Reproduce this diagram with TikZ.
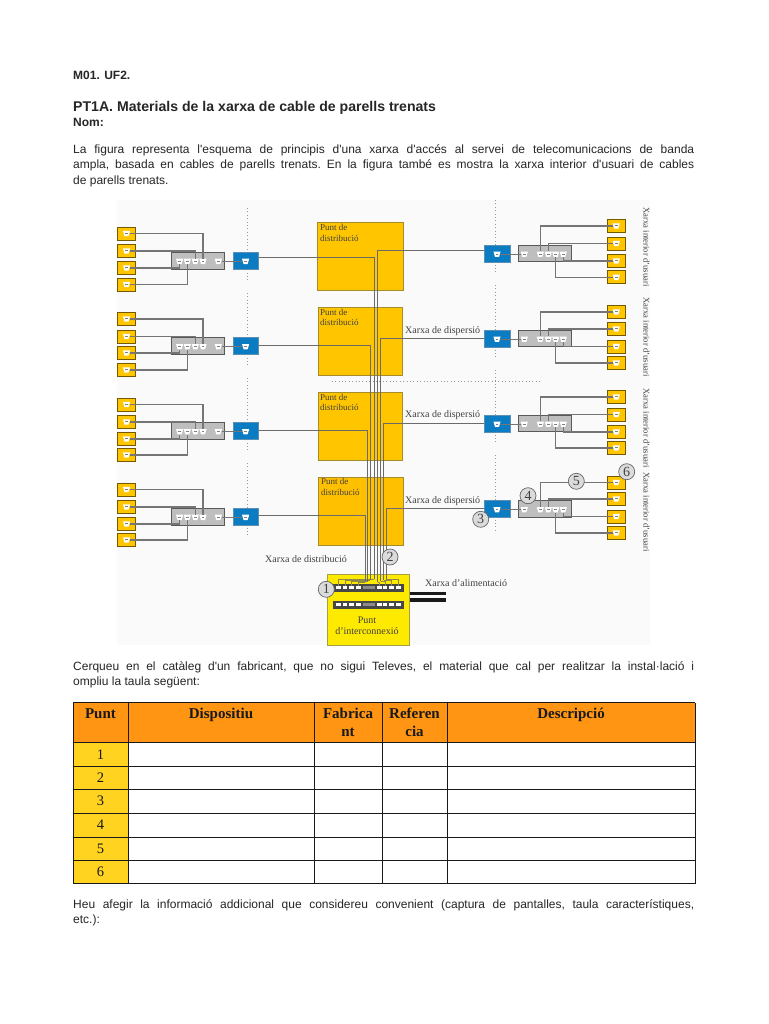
\documentclass[tikz,border=0pt]{standalone}
\usepackage{fontspec}
\usetikzlibrary{calc}
\newfontfamily\bodyf{Liberation Sans}
\newfontfamily\figf[Ligatures=TeX]{Liberation Serif}
\newcommand{\jline}[1]{\makebox[621pt][s]{\frenchspacing #1}}
\definecolor{bigyel}{HTML}{FFC600}
\definecolor{bigedge}{HTML}{A58C2C}
\definecolor{bluebx}{HTML}{0B7CC1}
\definecolor{blueedge}{HTML}{5C8FB4}
\definecolor{greybx}{HTML}{BEBEBE}
\definecolor{wirec}{HTML}{757575}
\definecolor{headc}{HTML}{FF9512}
\definecolor{firstc}{HTML}{FFD320}
\tikzset{
  bodytxt/.style={anchor=base west,inner sep=0,font=\bodyf\fontsize{12}{14}\selectfont,text=black!85},
  boldtxt/.style={bodytxt,font=\bodyf\bfseries\fontsize{12}{14}\selectfont},
  jack/.style={draw=black!55!bigyel,fill=bigyel,line width=.7pt,minimum width=18.5pt,minimum height=13pt,inner sep=0},
  portn/.style={rectangle,minimum width=7.2pt,minimum height=5.4pt,inner sep=0,
    path picture={
      \fill[white] (path picture bounding box.north west) -- (path picture bounding box.north east)
        -- ($(path picture bounding box.south east)!.22!(path picture bounding box.south west)$)
        -- ($(path picture bounding box.south west)!.22!(path picture bounding box.south east)$) -- cycle;
      \fill[black!50] ($(path picture bounding box.center)+(-1.4,-.7)$) rectangle ($(path picture bounding box.center)+(1.4,.1)$);
    }},
  patchport/.style={rectangle,fill=white,minimum width=4.6pt,minimum height=2.8pt,inner sep=0},
  greyn/.style={draw=black!65,fill=greybx,line width=.8pt,minimum width=53pt,minimum height=16.7pt,inner sep=0},
  bluen/.style={draw=blueedge,fill=bluebx,line width=.6pt,minimum width=25.6pt,minimum height=16.7pt,inner sep=0},
  bign/.style={draw=bigedge,fill=bigyel,line width=.8pt,anchor=north west,inner sep=0},
  wire/.style={draw=wirec,line width=1.1pt},
  cable/.style={draw=black!58,line width=.85pt},
  dots/.style={draw=black!40,line width=1pt,dash pattern=on 1pt off 2.4pt},
  figlab/.style={anchor=base west,inner sep=0,font=\figf\fontsize{10}{11}\selectfont,text=black!75},
  ptlab/.style={anchor=north west,inner sep=0,align=left,font=\figf\fontsize{9}{10.5}\selectfont,text=black!75},
  numc/.style={circle,draw=black!60,fill=black!14,line width=.7pt,minimum size=16pt,inner sep=0,font=\figf\fontsize{14}{14}\selectfont,text=black!75},
  stripn/.style={fill=black!72,minimum width=70.4pt,minimum height=8pt,inner sep=0},
  hcell/.style={anchor=base,font=\figf\bfseries\fontsize{15}{17}\selectfont,align=center,inner sep=0,text=black!90},
  ncell/.style={font=\figf\fontsize{14.5}{17}\selectfont,inner sep=0,text=black!90},
  tline/.style={draw=black!90,line width=.9pt},
}
\begin{document}
\begin{tikzpicture}[x=1pt,y=-1pt]
\useasboundingbox (0,0) rectangle (768,1024);
\fill[white] (0,0) rectangle (768,1024);
\fill[black!2] (117,200) rectangle (650,645);

% page text
\node[boldtxt] (t1) at (73,80) {M01. UF2.};
\node[boldtxt,font=\bodyf\bfseries\fontsize{14.1}{16}\selectfont] (t2) at (73,112) {PT1A. Materials de la xarxa de cable de parells trenats};
\node[boldtxt] (t3) at (73,126.5) {Nom:};
\node[bodytxt] (p1) at (73,153.5) {\jline{La figura representa l'esquema de principis d'una xarxa d'accés al servei de telecomunicacions de banda}};
\node[bodytxt] (p2) at (73,169) {\jline{ampla, basada en cables de parells trenats. En la figura també es mostra la xarxa interior d'usuari de cables}};
\node[bodytxt] (p3) at (73,184.5) {de parells trenats.};
\node[bodytxt] (q1) at (73,670.5) {\jline{Cerqueu en el catàleg d'un fabricant, que no sigui Televes, el material que cal per realitzar la instal·lació i}};
\node[bodytxt] (q2) at (73,685) {ompliu la taula següent:};
\node[bodytxt] (r1) at (73,908.5) {\jline{Heu afegir la informació addicional que considereu convenient (captura de pantalles, taula característiques,}};
\node[bodytxt] (r2) at (73,923) {etc.):};

% dotted guides
\foreach \a/\b in {208/280,293/365,378/450,463/535}
  \draw[dots] (247.3,\a) -- (247.3,\b);
\foreach \a/\b in {200/272,285/358,370/443,455/530}
  \draw[dots] (495.7,\a) -- (495.7,\b);
\draw[dots] (331.7,381) -- (540,381);

% distribution points
\node[bign,minimum width=86pt,minimum height=67.7pt] (D1) at (316.5,222) {};
\node[bign,minimum width=84.6pt,minimum height=68pt] (D2) at (317.7,307.3) {};
\node[bign,minimum width=84.6pt,minimum height=68pt] (D3) at (317.7,391.7) {};
\node[bign,fill=bigyel!92!orange,minimum width=84.4pt,minimum height=68pt] (D4) at (318.3,477.3) {};
\node[ptlab] (D1t) at (320,224.5) {Punt de\\distribució};
\node[ptlab] (D2t) at (320,309) {Punt de\\distribució};
\node[ptlab] (D3t) at (320,394) {Punt de\\distribució};
\node[ptlab] (D4t) at (321,478.5) {Punt de\\distribució};

% interconnection point
\node[draw=black!40!yellow,fill=yellow!92!orange,line width=.8pt,anchor=north west,minimum width=82.3pt,minimum height=71pt,inner sep=0] (IC) at (326.7,574.3) {};
\node[stripn] (S1) at (368.5,587.5) {};
\node[stripn] (S2) at (368.5,604.5) {};
\fill[black!45] (362.7,586.3) rectangle (375,588.7);
\fill[black!45] (362.7,603.3) rectangle (375,605.7);
\foreach \i/\x in {1/338.3,2/345,3/351.7,4/358.3,5/379.3,6/385,7/391.7,8/398.3}{
  \node[patchport] (PA\i) at (\x,587.5) {};
  \node[patchport] (PB\i) at (\x,604.5) {};
}
\node[inner sep=0,align=center,font=\figf\fontsize{10}{11.5}\selectfont,text=black!75] (ICt) at (367,626) {Punt\\d’interconnexió};

% left rows
\foreach \r/\yc/\ya/\yb/\yd/\ye/\ycab/\xcab/\pp in {
  1/260.7/233.5/251/268/284.5/257.7/374.3/1,
  2/346/319/336.5/353/370/345.7/370/2,
  3/431/404.5/422/439/455/430/367.5/3,
  4/516.7/489.5/507/524/540/515/365/4}{
  \node[jack] (La\r) at (126.5,\ya) {};
  \node[jack] (Lb\r) at (126.5,\yb) {};
  \node[jack] (Lc\r) at (126.5,\yd) {};
  \node[jack] (Ld\r) at (126.5,\ye) {};
  \foreach \n in {a,b,c,d}
    \node[portn] (Lp\n\r) at (L\n\r.center) {};
  \node[greyn] (LG\r) at (198.2,\yc) {};
  \node[bluen] (LB\r) at (245.6,\yc) {};
  \node[portn] (Lq1\r) at (179.6,\yc+.7) {};
  \node[portn] (Lq2\r) at (187.3,\yc+.7) {};
  \node[portn] (Lq3\r) at (195.3,\yc+.7) {};
  \node[portn] (Lq4\r) at (203,\yc+.7) {};
  \node[portn] (Lq5\r) at (218.3,\yc+.7) {};
  \node[portn] (LBp\r) at (245.6,\yc+.7) {};
  \draw[wire] (Lpa\r.east) -| (Lq4\r.north);
  \draw[wire] (Lpb\r.east) -| (Lq3\r.north);
  \draw[wire] (Lpc\r.east) -| (Lq1\r.south);
  \draw[wire] (Lpd\r.east) -| (Lq2\r.south);
  \draw[wire] (Lq5\r.east) -- (LBp\r.west);
  \coordinate (LJ\r) at (\xcab,\ycab);
  \draw[cable] (LB\r.east |- LJ\r) -- (LJ\r) -- (LJ\r |- 0,{578+\r});
  \draw[draw=black!50!yellow,line width=.7pt] (LJ\r |- 0,{578+\r}) -| (PA\pp.north);
}

% right rows
\foreach \r/\yc/\ya/\yb/\yd/\ye/\ycab/\xcab/\pp in {
  1/253.5/226/243.5/261/277.3/250.7/377.7/5,
  2/338.5/312/329/346.5/363/338.3/380.7/6,
  3/423.5/397/414.5/432/448/423/383.5/7,
  4/509/482.5/499/516.5/533/508.3/386/8}{
  \node[jack] (Ra\r) at (616.3,\ya) {};
  \node[jack] (Rb\r) at (616.3,\yb) {};
  \node[jack] (Rc\r) at (616.3,\yd) {};
  \node[jack] (Rd\r) at (616.3,\ye) {};
  \foreach \n in {a,b,c,d}
    \node[portn] (Rp\n\r) at (R\n\r.center) {};
  \node[greyn,minimum width=53.7pt] (RG\r) at (544.8,\yc) {};
  \node[bluen] (RB\r) at (497.3,\yc) {};
  \node[portn] (Rq1\r) at (524.3,\yc+.7) {};
  \node[portn] (Rq2\r) at (540.3,\yc+.7) {};
  \node[portn] (Rq3\r) at (548.3,\yc+.7) {};
  \node[portn] (Rq4\r) at (555.7,\yc+.7) {};
  \node[portn] (Rq5\r) at (563.3,\yc+.7) {};
  \node[portn] (RBp\r) at (497,\yc+.7) {};
  \draw[wire] (Rpa\r.west) -| (Rq2\r.north);
  \draw[wire] (Rpb\r.west) -| (Rq3\r.north);
  \draw[wire] (Rpc\r.west) -| (Rq5\r.south);
  \draw[wire] (Rpd\r.west) -| (Rq4\r.south);
  \draw[wire] (RBp\r.east) -- (Rq1\r.west);
  \coordinate (RJ\r) at (\xcab,\ycab);
  \draw[cable] (RB\r.west |- RJ\r) -- (RJ\r) -- (RJ\r |- 0,{583-\r});
  \draw[draw=black!50!yellow,line width=.7pt] (RJ\r |- 0,{583-\r}) -| (PA\pp.north);
}

% feed lines
\coordinate (F1) at (445.7,593.7);
\coordinate (F2) at (445.7,600);
\draw[line width=3.4pt,black!90] (IC.east |- F1) -- (F1);
\draw[line width=3.4pt,black!90] (IC.east |- F2) -- (F2);

% figure labels
\node[figlab] (x1) at (405,333) {Xarxa de dispersió};
\node[figlab] (x2) at (405,417.5) {Xarxa de dispersió};
\node[figlab] (x3) at (405,503) {Xarxa de dispersió};
\node[figlab] (x4) at (265,562.5) {Xarxa de distribució};
\node[figlab] (x5) at (425,586) {Xarxa d’alimentació};
\foreach \n/\y in {1/247,2/337,3/428,4/512}
  \node[inner sep=0,rotate=-90,font=\figf\fontsize{8.6}{10}\selectfont,text=black!75] (u\n) at (646.5,\y) {Xarxa interior d’usuari};

% numbered circles
\node[numc] (n1) at (326.3,589.3) {1};
\node[numc] (n2) at (390,557) {2};
\node[numc] (n3) at (480.7,519.3) {3};
\node[numc] (n4) at (528,495.7) {4};
\node[numc] (n5) at (576.3,481.3) {5};
\node[numc] (n6) at (626.7,471.7) {6};

% table
\fill[headc] (73,702.7) rectangle (695,742.3);
\fill[firstc] (73,742.3) rectangle (128.3,883.7);
\foreach \y in {702.7,742.3,766.3,789.3,813,837,860.3,883.7}
  \draw[tline] (73,\y) -- (695,\y);
\foreach \x in {73,128.3,314.3,382,447.5,695}
  \draw[tline] (\x,702.7) -- (\x,883.7);
\node[hcell] (h1) at (100.5,718.5) {Punt};
\node[hcell] (h2) at (221,718.5) {Dispositiu};
\node[hcell] (h3) at (348,718.5) {Fabrica};
\node[hcell] (h3b) at (348,736) {nt};
\node[hcell] (h4) at (414.5,718.5) {Referen};
\node[hcell] (h4b) at (414.5,736) {cia};
\node[hcell] (h5) at (571,718.5) {Descripció};
\foreach \n/\y in {1/754.3,2/777.8,3/801.2,4/825,5/848.7,6/872}
  \node[ncell] (c\n) at (100.5,\y) {\n};
\end{tikzpicture}
\end{document}
